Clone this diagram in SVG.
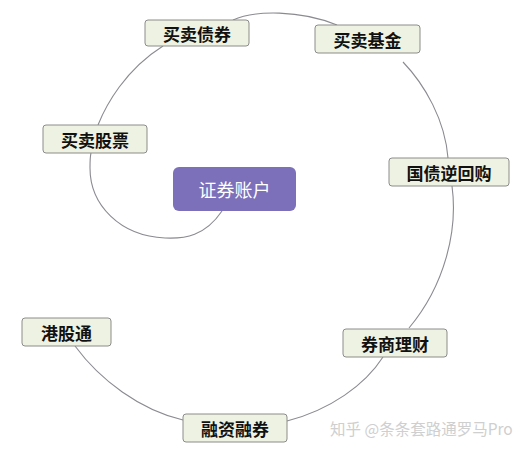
<svg xmlns="http://www.w3.org/2000/svg" width="526" height="455" viewBox="0 0 526 455">
<style>
.box{fill:#EEF2E2;stroke:#8C8C8C;stroke-width:1}
.lbl{font-family:"Noto Sans CJK SC","Noto Sans",sans-serif;font-size:17px;font-weight:700;fill:#111;text-anchor:middle;dominant-baseline:central}
.conn{fill:none;stroke:#8A8A90;stroke-width:1.1}
</style>
<rect width="526" height="455" fill="#FFFFFF"/>
<g id="connectors">
<path class="conn" d="M222,211 C205,236 185,239 165,238 C120,236 90,205 90,168 C90,162 90,157 91,153"/>
<path class="conn" d="M98,125 C106,105 125,70 163,46"/>
<path class="conn" d="M233,20 C255,10 300,10 337,25"/>
<path class="conn" d="M403,62 C425,85 445,120 448,158"/>
<path class="conn" d="M452,186 C458,230 445,285 409,328"/>
<path class="conn" d="M383,357 C365,385 330,410 287,421"/>
<path class="conn" d="M183,420 C140,410 100,380 75,346"/>
</g>
<g id="root">
<rect x="173" y="167" width="123" height="44" rx="6" fill="#7B70B9"/>
<text x="234.5" y="189" style="font-family:'Noto Sans CJK SC','Noto Sans',sans-serif;font-size:18px;fill:#FFFFFF;text-anchor:middle;dominant-baseline:central">证券账户</text>
</g>
<g id="n-gupiao"><rect class="box" x="43" y="125" width="104" height="28" rx="3"/><text class="lbl" x="95" y="139">买卖股票</text></g>
<g id="n-zhaiquan"><rect class="box" x="145" y="20" width="104" height="26" rx="3"/><text class="lbl" x="197" y="33">买卖债券</text></g>
<g id="n-jijin"><rect class="box" x="315" y="25" width="105" height="28" rx="3"/><text class="lbl" x="367.5" y="39">买卖基金</text></g>
<g id="n-nihuigou"><rect class="box" x="389" y="158" width="120" height="28" rx="3"/><text class="lbl" x="449" y="172">国债逆回购</text></g>
<g id="n-licai"><rect class="box" x="343" y="329" width="104" height="28" rx="3"/><text class="lbl" x="395" y="343">券商理财</text></g>
<g id="n-rongzi"><rect class="box" x="183" y="414" width="104" height="28" rx="3"/><text class="lbl" x="235" y="428">融资融券</text></g>
<g id="n-ganggutong"><rect class="box" x="22" y="318" width="89" height="28" rx="3"/><text class="lbl" x="66.5" y="332">港股通</text></g>
<text x="330" y="435" style="font-family:'Noto Sans CJK SC','Noto Sans',sans-serif;font-size:15.5px;fill:#CFCFCF">知乎 @条条套路通罗马Pro</text>
</svg>
